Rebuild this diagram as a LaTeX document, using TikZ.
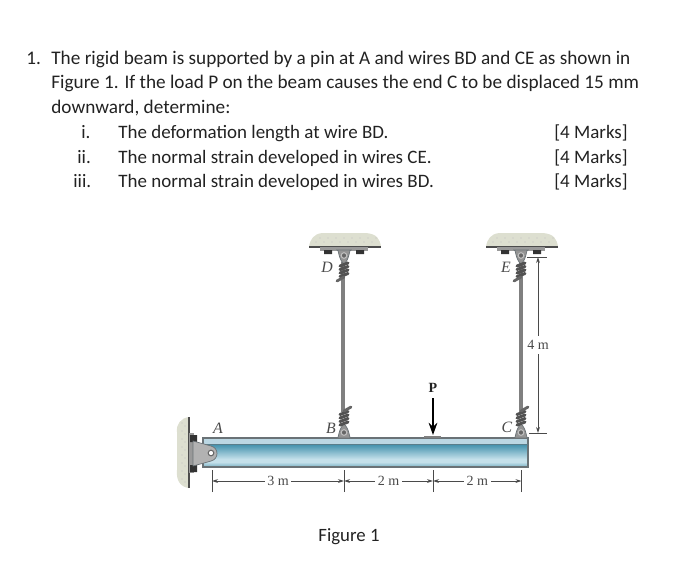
\documentclass[tikz,border=0pt]{standalone}
\usepackage{fontspec}
\setmainfont{Carlito}
\newfontfamily\figfont{Liberation Serif}
\usetikzlibrary{arrows.meta}
\colorlet{wirecol}{black!50}
\definecolor{beamdark}{HTML}{3F8FAB}
\definecolor{beamlight}{HTML}{C4E0EA}
\definecolor{beamstrip}{HTML}{BBD7E3}
\definecolor{edgecol}{HTML}{6A7276}
\definecolor{stonecol}{HTML}{DDDFD0}
\definecolor{inkcol}{HTML}{222222}
\definecolor{dimcol}{HTML}{4A4A4A}
\tikzset{
	txt/.style={anchor=base west, inner sep=0pt, text=inkcol, font=\fontsize{10.95pt}{12pt}\selectfont},
	itemtxt/.style={txt, font=\fontsize{10.8pt}{12pt}\selectfont},
	figlabel/.style={inner sep=0pt, text=dimcol, font=\figfont\fontsize{9pt}{10pt}\selectfont\itshape},
	dimlabel/.style={inner sep=1.5pt, fill=white, text=dimcol, font=\figfont\fontsize{8pt}{9pt}\selectfont},
	dimline/.style={draw=dimcol, line width=0.45pt, {Stealth[length=3.5pt,width=2.2pt]}-{Stealth[length=3.5pt,width=2.2pt]}},
	tickline/.style={draw=dimcol, line width=0.45pt},
	wire/.style={draw=wirecol, line width=1.9pt},
	eyelet/.pic={
		\fill[black!42, draw=edgecol, line width=0.4pt] (-7,0) .. controls (-5,-1) and (-6,9) .. (0,14) .. controls (6,9) and (5,-1) .. (7,0) -- cycle;
		\draw[black!25, fill=black!60, line width=0.6pt] (0,5.5) circle (2.8);
		\foreach \i in {14.5,18,21.5,25}
			\draw[black!68, line width=1.7pt, line cap=round] (-4,\i+1.5) -- (4,\i-1.5);
		\draw[black!60, line width=1.6pt, line cap=round] (0,27) -- (-7,31);
	},
	ceiling/.pic={
		\fill[stonecol] (-35,0) .. controls (-34,-8) and (-30,-13) .. (-22,-14) -- (22,-14) .. controls (33,-13) and (36,-8) .. (37,0) -- cycle;
		\foreach \i in {-28,-20,...,28}
			\fill[black!25] (\i,-5) circle (0.7) (\i+4,-9) circle (0.6);
		\draw[black!70, line width=0.7pt] (-35,0) -- (37,0);
		\fill[black!40] (-24,0) rectangle (24,4);
		\fill[black!80] (-20,3) rectangle (-12,7) (12,3) rectangle (20,7);
	},
}
\begin{document}
\begin{tikzpicture}[x=0.02cm, y=-0.02cm]
	\useasboundingbox (0,0) rectangle (700,583);
	% question text
	\node[txt] (num) at (26,64) {1.};
	\node[txt] (line1) at (51,64) {The rigid beam is supported by a pin at A and wires BD and CE as shown in};
	\node[txt] (line2) at (51,88) {Figure 1. If the load P on the beam causes the end C to be displaced 15 mm};
	\node[txt] (line3) at (51,113) {downward, determine:};
	\node[itemtxt] (romi) at (81,138) {i.};
	\node[itemtxt] (itemi) at (118,138) {The deformation length at wire BD.};
	\node[itemtxt] (marki) at (554,138) {[4 Marks]};
	\node[itemtxt] (romii) at (77,163) {ii.};
	\node[itemtxt] (itemii) at (118,163) {The normal strain developed in wires CE.};
	\node[itemtxt] (markii) at (554,163) {[4 Marks]};
	\node[itemtxt] (romiii) at (73,187) {iii.};
	\node[itemtxt] (itemiii) at (118,187) {The normal strain developed in wires BD.};
	\node[itemtxt] (markiii) at (554,187) {[4 Marks]};
	% supports
	\pic at (344,247) {ceiling};
	\pic at (521,247) {ceiling};
	\fill[stonecol] (189,417) -- (189,488) .. controls (180,487) and (176,480) .. (177,470) -- (177,432) .. controls (176,424) and (181,418) .. (189,417) -- cycle;
	\foreach \i in {423,431,...,483}
		\fill[black!25] (182,\i) circle (0.7) (185,\i+3) circle (0.6);
	\draw[black!70, line width=0.7pt] (189,417) -- (189,488);
	% beam
	\fill[beamstrip] (203,438) rectangle (528,444);
	\shade[top color=beamdark, bottom color=beamlight] (203,444) rectangle (528,459);
	\fill[beamlight] (203,459) rectangle (528,462);
	\shade[top color=beamlight, bottom color=beamdark!70] (203,462) rectangle (528,467);
	\draw[edgecol, line width=0.8pt] (203,438) rectangle (528,467);
	\draw[edgecol!60!beamdark, line width=0.3pt] (203,444) -- (528,444);
	% pin at A
	\fill[black!40] (189,433) rectangle (194,473);
	\fill[black!80] (190,435) rectangle (197,442) (190,465) rectangle (197,472);
	\fill[black!30, draw=edgecol, line width=0.4pt] (193,441) -- (204,444) -- (211,446) .. controls (219,448) and (219,459) .. (211,461) -- (204,463) -- (193,466) -- cycle;
	\draw[black!60, fill=white, line width=0.6pt] (211,453) circle (2.8);
	% wires
	\coordinate (Dtop) at (343,262);
	\coordinate (Btop) at (343,412);
	\coordinate (Etop) at (521,262);
	\coordinate (Ctop) at (521,412);
	\draw[wire] (Dtop) -- (Btop);
	\draw[wire] (Etop) -- (Ctop);
	\pic at (344,250) {eyelet};
	\pic at (521,250) {eyelet};
	\pic[rotate=180] at (344,438) {eyelet};
	\pic[rotate=180] at (521,438) {eyelet};
	% load
	\fill[black!50] (424,435.5) rectangle (441,438);
	\node[inner sep=0pt, font=\figfont\fontsize{8pt}{9pt}\selectfont\bfseries, text=inkcol] (P) at (433,388) {P};
	\coordinate (Pend) at (433,435);
	\draw[black, line width=0.9pt, -{Stealth[length=7pt,width=5pt]}] (433,398) -- (Pend);
	% dimensions
	\coordinate (d0) at (212,481);
	\coordinate (d1) at (344,481);
	\coordinate (d2) at (433,481);
	\coordinate (d3) at (521.5,481);
	\foreach \p in {d0,d1,d2,d3}
		\draw[tickline] ([yshift=-0.22cm]\p) -- ([yshift=0.22cm]\p);
	\draw[dimline] (d0) -- node[dimlabel] (len3) {3 m} (d1);
	\draw[dimline] (d1) -- node[dimlabel] (len2a) {2 m} (d2);
	\draw[dimline] (d2) -- node[dimlabel] (len2b) {2 m} (d3);
	\coordinate (h0) at (538,257);
	\coordinate (h1) at (538,433);
	\draw[tickline] (527,257) -- (547,257);
	\draw[tickline] (529,433) -- (547,433);
	\draw[dimline] (h0) -- node[dimlabel, pos=0.5, inner ysep=2.5pt] (len4) {4 m} (h1);
	% labels
	\node[figlabel] (A) at (218,428) {A};
	\node[figlabel] (B) at (331,428) {B};
	\node[figlabel] (C) at (507,427) {C};
	\node[figlabel] (D) at (327,267) {D};
	\node[figlabel] (E) at (506,267) {E};
	\node[inner sep=0pt, text=inkcol, font=\fontsize{10.7pt}{12pt}\selectfont] (cap) at (349,537) {Figure 1};
\end{tikzpicture}
\end{document}
